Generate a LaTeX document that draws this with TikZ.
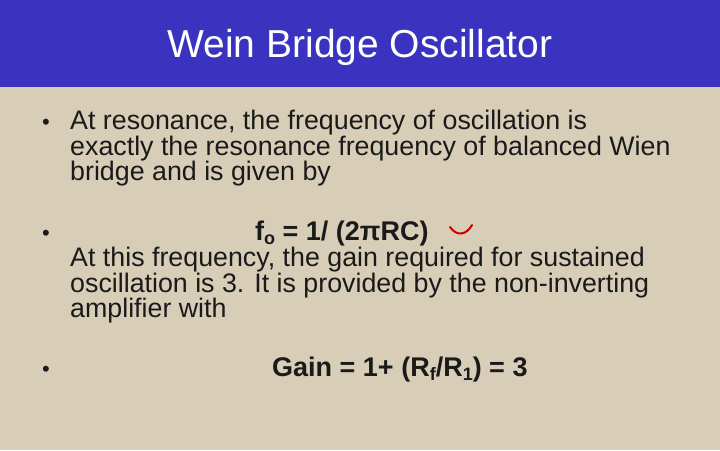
\documentclass[tikz,border=0pt]{standalone}
\usepackage{fontspec}
\setmainfont{Liberation Sans}
\definecolor{bg}{HTML}{D8CEB8}
\definecolor{bar}{HTML}{3A33C0}
\definecolor{ink}{HTML}{1A1A1A}
\tikzset{line/.style={anchor=base west,inner sep=0,font=\fontsize{26.8}{28}\selectfont,text=ink},
bul/.style={anchor=base west,inner sep=0,font=\fontsize{22}{24}\selectfont,text=ink}}
\begin{document}
\begin{tikzpicture}[x=1pt,y=-1pt]
\useasboundingbox (0,0) rectangle (720,450);
\fill[bg] (0,0) rectangle (720,450);
\fill[bar] (0,0) rectangle (720,87);
\node[text=white,font=\fontsize{39}{40}\selectfont,anchor=base] (title) at (360,57) {Wein Bridge Oscillator};
\node[bul] (b1) at (42,129) {•};
\node[line] (l1) at (70,129) {At resonance, the frequency of oscillation is};
\node[line] (l2) at (70,155) {exactly the resonance frequency of balanced Wien};
\node[line] (l3) at (70,180) {bridge and is given by};
\node[bul] (b2) at (42,240) {•};
\node[line,font=\fontsize{27}{28}\selectfont\bfseries] (f) at (255,240) {f\raisebox{-0.35ex}{\fontsize{18}{18}\selectfont o} = 1/ (2πRC)};
\node[line] (l4) at (70,266) {At this frequency, the gain required for sustained};
\node[line] (l5) at (70,292) {oscillation is 3. It is provided by the non-inverting};
\node[line] (l6) at (70,317) {amplifier with};
\node[bul] (b3) at (42,376) {•};
\node[line,font=\fontsize{27}{28}\selectfont\bfseries] (g) at (272,376) {Gain = 1+ (R\raisebox{-0.35ex}{\fontsize{18}{18}\selectfont f}/R\raisebox{-0.35ex}{\fontsize{18}{18}\selectfont 1}) = 3};
\draw[red!80!black,line width=2pt,line cap=round] (450,227) .. controls (456,236) and (466,236) .. (472,225);
\end{tikzpicture}
\end{document}
